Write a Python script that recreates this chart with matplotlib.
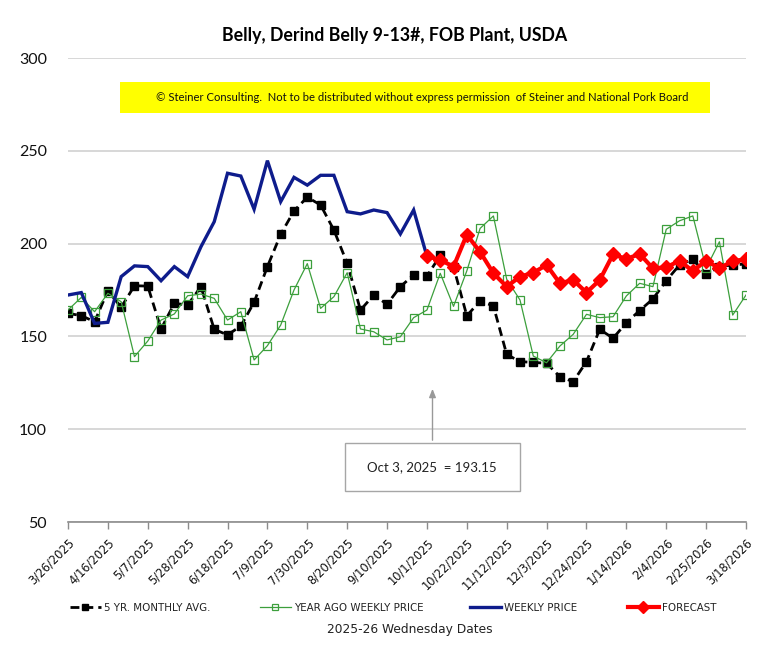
import matplotlib
matplotlib.use("Agg")
import matplotlib.pyplot as plt
from matplotlib.patches import Rectangle
import pandas as pd

# ---------------- data ----------------
start_date = "2025-03-26"
n_weeks = 52
dates = pd.date_range(start_date, periods=n_weeks, freq="7D")

five_yr_avg = [162.4, 161.2, 157.9, 174.6, 165.7, 177.3, 177.1, 154.0, 167.8, 166.9,
               176.8, 153.8, 150.8, 155.6, 168.4, 187.6, 205.0, 217.6, 225.0, 220.8,
               207.3, 189.4, 164.2, 172.3, 167.3, 176.8, 183.1, 182.5, 193.6, 187.5,
               161.1, 169.1, 166.4, 140.3, 136.4, 136.0, 135.5, 128.3, 125.6, 136.4,
               153.8, 149.0, 157.4, 163.9, 170.2, 180.0, 188.5, 191.5, 183.5, 187.6,
               188.5, 189.0]

year_ago = [164.2, 171.0, 163.3, 173.2, 168.7, 139.1, 147.5, 158.8, 162.1, 171.9,
            172.8, 170.5, 158.8, 163.3, 137.3, 145.0, 156.1, 175.0, 189.2, 165.1,
            171.4, 184.3, 154.0, 152.5, 148.1, 149.8, 160.1, 164.2, 184.0, 166.2,
            185.3, 208.2, 214.9, 180.8, 169.6, 139.4, 135.8, 144.8, 151.1, 161.9,
            160.1, 160.6, 171.8, 178.6, 176.8, 207.7, 212.3, 214.9, 186.7, 201.0,
            161.5, 172.3]

weekly_price = [172.3, 173.6, 157.0, 157.6, 182.2, 188.0, 187.6, 180.0, 187.6, 182.2,
                198.3, 211.8, 237.9, 236.4, 218.5, 244.7, 222.6, 235.7, 231.5, 236.8,
                236.8, 217.2, 216.0, 218.1, 216.7, 205.2, 218.1, 193.15]

forecast = [193.15, 191.2, 187.6, 204.8, 195.5, 184.0, 176.8, 182.2, 184.3, 188.5,
            178.6, 180.4, 173.6, 180.4, 194.2, 191.7, 194.4, 186.7, 187.2, 190.8,
            185.2, 190.8, 186.7, 190.6, 191.5]

series_labels = ["5 YR. MONTHLY AVG.", "YEAR AGO WEEKLY PRICE", "WEEKLY PRICE", "FORECAST"]
y_ticks = [50, 100, 150, 200, 250, 300]
title = "Belly, Derind Belly 9-13#, FOB Plant, USDA"
x_title = "2025-26 Wednesday Dates"
copyright_text = ("\u00a9 Steiner Consulting.  Not to be distributed without express permission "
                  " of Steiner and National Pork Board")
note_text = "Oct 3, 2025  = 193.15"

# ---------------- styling ----------------
C_BLACK = "#000000"
C_GREEN = "#3c9f3c"
C_NAVY = "#0e1c8c"
C_RED = "#ff0000"

W, H = 768, 648
fig = plt.figure(figsize=(W / 100, H / 100), dpi=100)
ax = fig.add_axes([68 / W, 1 - 522 / H, 678 / W, 464 / H])

w_dates = dates[:len(weekly_price)]
f_dates = dates[len(weekly_price) - 1:len(weekly_price) - 1 + len(forecast)]

l_avg, = ax.plot(dates, five_yr_avg, color=C_BLACK, lw=2.0, ls=(0, (3.2, 1.8)),
                 marker="s", ms=5.6, mfc=C_BLACK, mec=C_BLACK, zorder=3)
l_ya, = ax.plot(dates, year_ago, color=C_GREEN, lw=0.9, marker="s", ms=5.2,
                mfc="none", mec=C_GREEN, mew=0.9, zorder=4)
l_wk, = ax.plot(w_dates, weekly_price, color=C_NAVY, lw=2.4, zorder=5,
                solid_joinstyle="miter")
l_fc, = ax.plot(f_dates, forecast, color=C_RED, lw=3.0, marker="D", ms=7.2,
                mfc=C_RED, mec=C_RED, zorder=6)

ax.set_ylim(50, 300)
ax.set_yticks(y_ticks)
ax.set_xlim(dates[0], dates[-1])
tick_dates = dates[::3]
ax.set_xticks(tick_dates)
ax.set_xticklabels([f"{d.month}/{d.day}/{d.year}" for d in tick_dates],
                   rotation=45, ha="right", va="top", rotation_mode="anchor",
                   fontsize=8.3, family="DejaVu Sans", color="#111111")
ax.tick_params(axis="x", length=5, width=1, color="#8c8c8c", pad=5)
ax.tick_params(axis="y", length=0, pad=15, labelsize=11.5, colors="#111111")
for lab in ax.get_yticklabels():
    lab.set_family("Lato")

ax.grid(axis="y", color="#d4d4d4", lw=1.3)
ax.set_axisbelow(True)
for s in ["top", "right", "left"]:
    ax.spines[s].set_visible(False)
ax.spines["bottom"].set_color("#8c8c8c")
ax.spines["bottom"].set_linewidth(1.2)
ax.spines["bottom"].set_zorder(2)

# title
fig.text(395 / W, 1 - 35 / H, title, ha="center", va="center",
         fontsize=12.8, fontweight="bold", family="Lato")

# yellow copyright box
fig.patches.append(Rectangle((120 / W, 1 - 113 / H), 590 / W, 31 / H,
                             transform=fig.transFigure, facecolor="#ffff00",
                             edgecolor="none", zorder=1))
fig.text(422 / W, 1 - 97.5 / H, copyright_text, ha="center", va="center",
         fontsize=8.1, family="Lato", color="#111111", zorder=2)

# annotation box with arrow
ax.add_patch(Rectangle(((345 - 68) / 678, 1 - (491 - 58) / 464), 175 / 678, 48 / 464,
                       transform=ax.transAxes, facecolor="white", edgecolor="#a6a6a6",
                       lw=1.0, zorder=7))
ax.text((432 - 68) / 678, 1 - (467 - 58) / 464, note_text, transform=ax.transAxes,
        ha="center", va="center", fontsize=9.5, family="Lato", color="#222222", zorder=8)
ax.annotate("", xy=((432.5 - 68) / 678, 1 - (386 - 58) / 464),
            xytext=((432.5 - 68) / 678, 1 - (443 - 58) / 464),
            xycoords="axes fraction", textcoords="axes fraction",
            arrowprops=dict(arrowstyle="-|>,head_length=0.5,head_width=0.2",
                            color="#999999", lw=1.0), zorder=7)

# legends (one per entry so their positions match)
leg_x = [70, 260, 470, 628]
for line, lab, x in zip([l_avg, l_ya, l_wk, l_fc], series_labels, leg_x):
    fig.legend([line], [lab], loc="center left", bbox_to_anchor=(x / W, 1 - 608 / H),
               frameon=False, borderpad=0, borderaxespad=0, handlelength=3.0,
               handletextpad=0.3, prop={"family": "DejaVu Sans", "size": 7.4},
               labelcolor="#222222", markerscale=0.85)

fig.text(410 / W, 1 - 630 / H, x_title, ha="center", va="center",
         fontsize=8.8, family="DejaVu Sans", color="#222222")

fig.savefig("out.png", dpi=100)
